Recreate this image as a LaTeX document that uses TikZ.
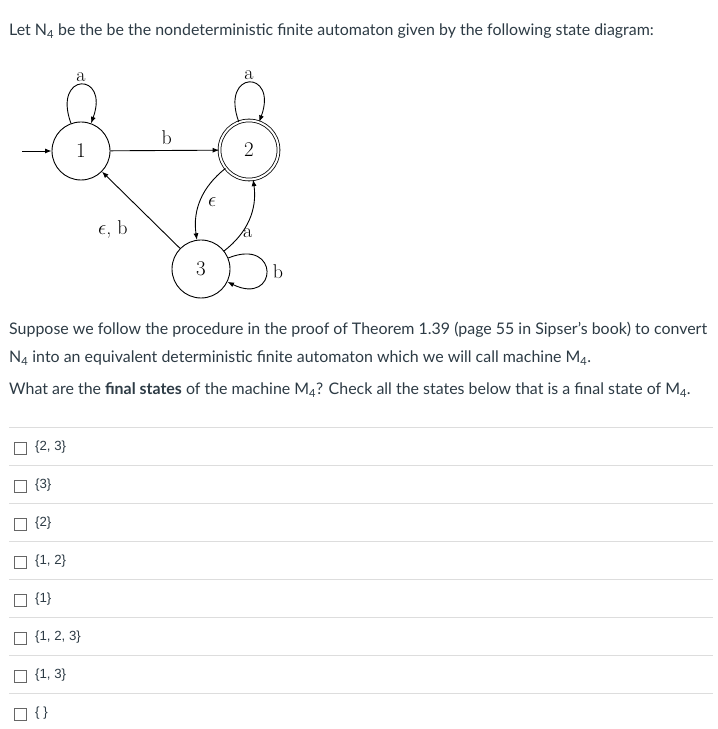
\documentclass[tikz,border=0pt]{standalone}
\usepackage{fontspec}
\newfontfamily\latofont{Lato}
\newfontfamily\optfont{Liberation Sans}
\usetikzlibrary{arrows.meta}
\definecolor{canvastext}{HTML}{2D3B45}
\definecolor{rulegray}{HTML}{DDDDDD}
\definecolor{boxgray}{HTML}{666666}

\begin{document}
\begin{tikzpicture}[x=1bp,y=1bp,
	statenode/.style={circle,draw,line width=0.9bp,minimum size=58bp,inner sep=0pt,font=\fontsize{21}{24}\selectfont},
	finalnode/.style={statenode,double,line width=0.8bp,double distance=2bp,minimum size=59bp},
	edgelabel/.style={font=\fontsize{20}{23}\selectfont,inner sep=2bp},
	trans/.style={-{Latex[length=6.5bp,width=5bp]},line width=0.9bp},
	qtext/.style={anchor=base west,inner sep=0pt,text=canvastext,font=\latofont\fontsize{16}{19}\selectfont},
	opttext/.style={anchor=base west,inner sep=0pt,text=canvastext,font=\optfont\fontsize{13.3}{15}\selectfont},
	optbox/.style={draw=boxgray,line width=0.8bp,minimum size=12bp,inner sep=0pt}]
	\useasboundingbox[fill=white] (0,0) rectangle (718,729);

	% question text
	\node[qtext] (intro) at (9,693) {Let N\textsubscript{4} be the be the nondeterministic finite automaton given by the following state diagram:};
	\node[qtext] (para1) at (9,394) {Suppose we follow the procedure in the proof of Theorem 1.39 (page 55 in Sipser’s book) to convert};
	\node[qtext] (para2) at (9,366) {N\textsubscript{4} into an equivalent deterministic finite automaton which we will call machine M\textsubscript{4}.};
	\node[qtext] (para3) at (9,334) {What are the \textbf{final states} of the machine M\textsubscript{4}? Check all the states below that is a final state of M\textsubscript{4}.};

	% states
	\node[statenode] (q1) at (81,578) {1};
	\node[finalnode] (q2) at (249,579) {2};
	\node[statenode] (q3) at (201,460) {3};
	\coordinate (start) at (22,578);

	% transitions
	\draw[trans] (start) -- (q1);
	\draw[trans] (q1) to[out=110,in=70,looseness=7] node[edgelabel,above] {a} (q1);
	\draw[trans] (q2) to[out=110,in=70,looseness=7] node[edgelabel,above] {a} (q2);
	\draw[trans] (q1) -- node[edgelabel,above,xshift=2bp,yshift=3bp] {b} (q2);
	\draw[trans] (q3) -- node[edgelabel,below left,xshift=-11bp,yshift=-8bp] {$\epsilon$, b} (q1);
	\draw[trans] (q2) to[bend right=30] node[edgelabel,right,xshift=5bp,yshift=-2bp] {$\epsilon$} (q3);
	\draw[trans] (q3) to[bend right=30] node[edgelabel,pos=0.3,right,xshift=-1bp] {a} (q2);
	\draw[trans] (q3) to[out=22,in=-26,looseness=6] node[edgelabel,right,xshift=4bp] {b} (q3);

	% answer options
	\foreach \lbl [count=\i] in {{\{2, 3\}},{\{3\}},{\{2\}},{\{1, 2\}},{\{1\}},{\{1, 2, 3\}},{\{1, 3\}},{\{ \}}} {
		\draw[rulegray,line width=1bp] (9,{729-428-38*(\i-1)}) -- (713,{729-428-38*(\i-1)});
		\node[optbox] (box\i) at (20,{729-448.5-38*(\i-1)}) {};
		\node[opttext] (opt\i) at (35,{729-451-38*(\i-1)}) {\lbl};
	}
\end{tikzpicture}
\end{document}
